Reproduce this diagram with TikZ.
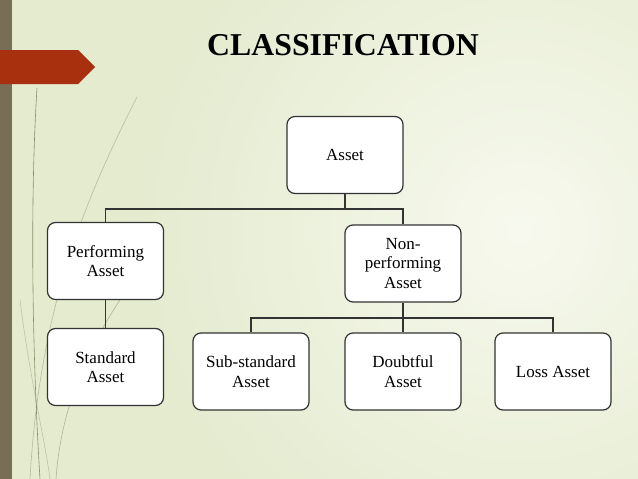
\documentclass[tikz,border=0pt]{standalone}
\usepackage{fontspec}
\setmainfont{Liberation Serif}
\begin{document}
\begin{tikzpicture}[x=1pt,y=-1pt,
  box/.style={draw=black!80, line width=1.2pt, fill=white, rounded corners=8pt,
    minimum width=116pt, minimum height=77pt, align=center, inner sep=2pt,
    font=\fontsize{17}{19.5}\selectfont},
  link/.style={draw=black!80, line width=1.2pt},
  grass/.style={line width=0.6pt, draw=black!55!olive, opacity=0.6}]
\useasboundingbox (0,0) rectangle (638,479);
% background
\fill[color={rgb,255:red,228;green,235;blue,207}] (0,0) rectangle (638,479);
\begin{scope}
\clip (0,0) rectangle (638,479);
\shade[inner color={rgb,255:red,247;green,249;blue,238}, outer color={rgb,255:red,228;green,235;blue,207}] (520,230) circle (380);
\end{scope}
% decorative grass lines
\draw[grass] (37,88) .. controls (30,200) and (32,350) .. (40,479);
\draw[grass, opacity=0.3] (137,97) .. controls (90,190) and (40,300) .. (30,479);
\draw[grass, opacity=0.35] (120,300) .. controls (80,360) and (60,420) .. (56,479);
\draw[grass, opacity=0.25] (20,300) .. controls (30,380) and (45,440) .. (50,479);
% left bar
\fill[color={rgb,255:red,120;green,110;blue,85}] (0,0) rectangle (12,479);
% red arrow
\fill[color={rgb,255:red,168;green,48;blue,15}] (0,50) -- (78,50) -- (95,67) -- (78,84) -- (0,84) -- cycle;
% title
\node[font=\fontsize{31.8}{36}\bfseries\selectfont] (title) at (343,45) {CLASSIFICATION};
% boxes
\node[box] (asset) at (345,155) {Asset};
\node[box] (perf) at (105.5,261) {Performing\\Asset};
\node[box] (npa) at (403,263.5) {Non-\\performing\\Asset};
\node[box] (std) at (105.5,367) {Standard\\Asset};
\node[box] (sub) at (251,371.5) {Sub-standard\\Asset};
\node[box] (doubt) at (403,371.5) {Doubtful\\Asset};
\node[box] (loss) at (553,371.5) {Loss Asset};
% connectors
\coordinate (j1) at (345,209);
\coordinate (j2) at (403,318);
\draw[link] (asset.south) -- (j1);
\draw[link] (perf.north) |- (j1) -| (npa.north);
\draw[link] (perf.south) -- (std.north);
\draw[link] (npa.south) -- (j2);
\draw[link] (sub.north) |- (j2) -| (loss.north);
\draw[link] (j2) -- (doubt.north);
\end{tikzpicture}
\end{document}
